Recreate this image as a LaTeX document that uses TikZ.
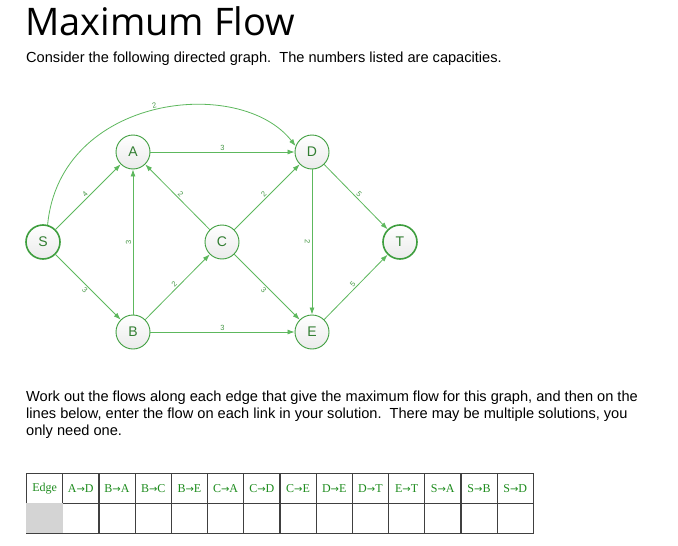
\documentclass[tikz,border=0pt]{standalone}
\usepackage{fontspec}
\setmainfont{Liberation Sans}
\newfontfamily\titlefont{Open Sans}
\newfontfamily\tabfont{Liberation Serif}
\newfontfamily\arrfont{DejaVu Sans}
\usetikzlibrary{arrows.meta}
\definecolor{edgegreen}{HTML}{5DB85D}
\definecolor{nodegreen}{HTML}{3E9E3E}
\definecolor{labgreen}{HTML}{4A9A4A}
\definecolor{tabgreen}{HTML}{1E8C1E}
\newcommand{\ar}{{\arrfont\fontsize{10}{10}\selectfont →}}
\begin{document}
\begin{tikzpicture}[x=1pt,y=-1pt,
  vert/.style={circle,draw=nodegreen,line width=0.9pt,inner sep=0pt,minimum size=34pt,top color=white,bottom color=black!8,font=\fontsize{14}{14}\selectfont,text=nodegreen!80!black},
  term/.style={vert,line width=1.6pt},
  edge/.style={draw=edgegreen,line width=0.8pt,-{Latex[length=7pt,width=5pt]}},
  lab/.style={font=\fontsize{7.5}{7.5}\selectfont,text=labgreen,sloped,inner sep=1.5pt},
  cell/.style={draw=black!75,line width=0.8pt,minimum width=36.4pt,minimum height=30pt,anchor=north west,inner sep=0pt,font=\tabfont\fontsize{12}{12}\selectfont,text=tabgreen},
  txt/.style={anchor=west,inner sep=0pt,font=\fontsize{14.6}{14.6}\selectfont}]
\useasboundingbox (0,0) rectangle (678,546);
\fill[white] (0,0) rectangle (678,546);
\node[anchor=west,inner sep=0pt,font=\titlefont\fontsize{38}{38}\selectfont] (title) at (25,21) {Maximum Flow};
\node[txt] (t1) at (26,59) {Consider the following directed graph.\ \ The numbers listed are capacities.};
\node[term] (S) at (43,242) {S};
\node[vert] (A) at (133,152) {A};
\node[vert] (D) at (312,152) {D};
\node[vert] (C) at (222,242) {C};
\node[term] (T) at (400,242) {T};
\node[vert] (B) at (133,332) {B};
\node[vert] (E) at (312,332) {E};
\draw[edge] (S.75) .. controls (60,95) and (240,75) .. node[lab,pos=0.5,above]{2} (D.160);
\draw[edge] (S) -- node[lab,above]{4} (A);
\draw[edge] (S) -- node[lab,below]{3} (B);
\draw[edge] (A) -- node[lab,above]{3} (D);
\draw[edge] (B) -- node[lab,above]{3} (A);
\draw[edge] (C) -- node[lab,above]{2} (A);
\draw[edge] (B) -- node[lab,above]{2} (C);
\draw[edge] (B) -- node[lab,above]{3} (E);
\draw[edge] (C) -- node[lab,above]{2} (D);
\draw[edge] (C) -- node[lab,below]{3} (E);
\draw[edge] (D) -- node[lab,below]{2} (E);
\draw[edge] (D) -- node[lab,above]{5} (T);
\draw[edge] (E) -- node[lab,above]{5} (T);
\node[txt] (t2) at (26,398) {Work out the flows along each edge that give the maximum flow for this graph, and then on the};
\node[txt] (t3) at (26,415) {lines below, enter the flow on each link in your solution.\ \ There may be multiple solutions, you};
\node[txt] (t4) at (26,432) {only need one.};
\foreach \t [count=\i from 0] in {Edge,A\ar D,B\ar A,B\ar C,B\ar E,C\ar A,C\ar D,C\ar E,D\ar E,D\ar T,E\ar T,S\ar A,S\ar B,S\ar D}{
  \node[cell] (h\i) at ({26+36.2*\i},473) {\t};
  \node[cell] (r\i) at ({26+36.2*\i},503) {};
}
\fill[black!17] ([shift={(0.4pt,-0.4pt)}]r0.north west) rectangle ([shift={(-0.4pt,0.4pt)}]r0.south east);
\end{tikzpicture}
\end{document}
